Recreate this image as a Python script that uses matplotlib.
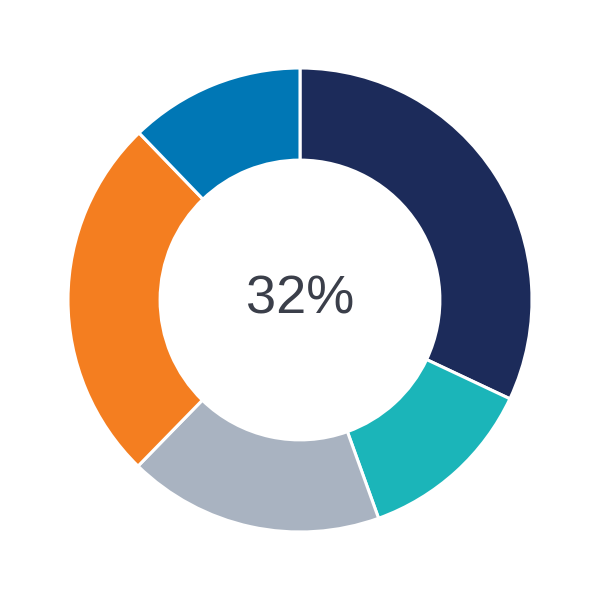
import matplotlib.pyplot as plt

# segment shares (percent), clockwise from the top
labels = ['Navy', 'Teal', 'Gray', 'Orange', 'Blue']
values = [32, 12.5, 17.8, 25.5, 12.2]
colors = ['#1c2b5a', '#1bb5b9', '#a9b3c1', '#f47e20', '#0077b5']
center_text = '32%'

fig = plt.figure(figsize=(6, 6), dpi=100)
ax = fig.add_axes([0, 0, 1, 1])

ax.pie(values, colors=colors, startangle=90, counterclock=False,
       radius=1.0,
       wedgeprops=dict(width=0.397, edgecolor='white', linewidth=2.2))

ax.text(0, 0, center_text, ha='center', va='center',
        fontsize=39, color='#3b3f4a', family='Liberation Sans')

lim = 300 / 232
ax.set_xlim(-lim, lim)
ax.set_ylim(-lim, lim)
ax.set_aspect('equal')
ax.axis('off')

fig.savefig('out.png', dpi=100, facecolor='white')
